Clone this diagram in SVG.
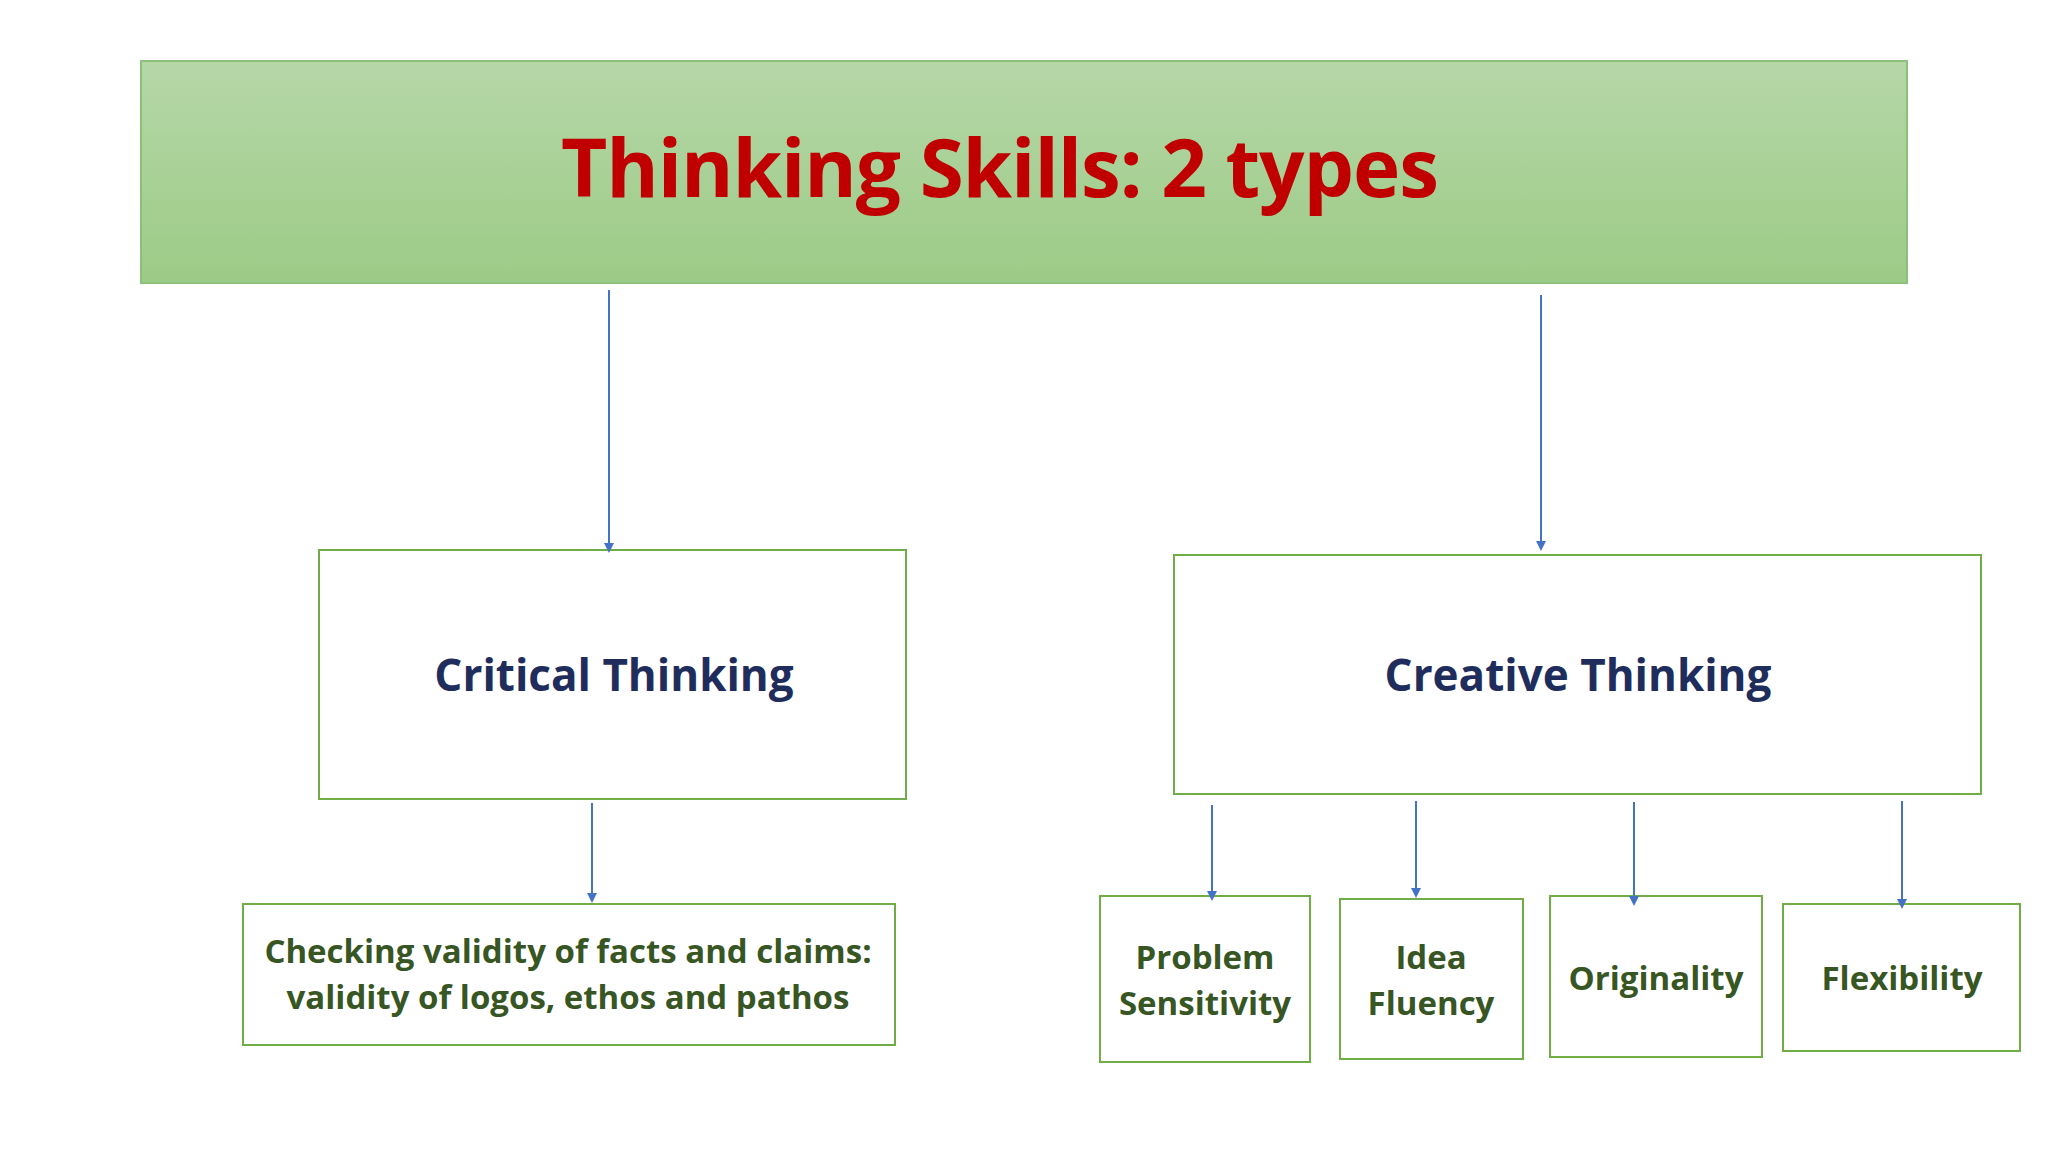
<svg xmlns="http://www.w3.org/2000/svg" width="2048" height="1152" viewBox="0 0 2048 1152">
<defs>
<linearGradient id="g" x1="0" y1="0" x2="0" y2="1"><stop offset="0" stop-color="#b6d7a8"/><stop offset="1" stop-color="#9ccb86"/></linearGradient>
<marker id="a" markerWidth="10" markerHeight="10" refX="5" refY="5" orient="auto" markerUnits="userSpaceOnUse"><path d="M0,0 L10,5 L0,10 z" fill="#4472c4"/></marker>
<style>
.b{fill:#fff;stroke:#70ad47;stroke-width:2}
.t{font-family:"Open Sans","Liberation Sans",sans-serif;font-weight:bold;text-anchor:middle}
.h{fill:#1f2d5c;font-size:44px}
.s{fill:#375623;font-size:33px}
.c line{stroke:#4472c4;stroke-width:2;marker-end:url(#a)}
</style>
</defs>
<rect width="2048" height="1152" fill="#fff"/>
<g id="title"><rect x="141" y="61" width="1766" height="222" fill="url(#g)" stroke="#8cc07a" stroke-width="2"/>
<text class="t" x="1000" y="197" font-size="80" fill="#c00000" textLength="878">Thinking Skills: 2 types</text></g>
<g id="critical"><rect class="b" x="319" y="550" width="587" height="249"/><text class="t h" x="614" y="691">Critical Thinking</text></g>
<g id="creative"><rect class="b" x="1174" y="555" width="807" height="239"/><text class="t h" x="1578" y="691">Creative Thinking</text></g>
<g id="checking"><rect class="b" x="243" y="904" width="652" height="141"/><text class="t s" x="568" y="963">Checking validity of facts and claims:</text><text class="t s" x="568" y="1009">validity of logos, ethos and pathos</text></g>
<g id="problem"><rect class="b" x="1100" y="896" width="210" height="166"/><text class="t s" x="1205" y="969">Problem</text><text class="t s" x="1205" y="1015">Sensitivity</text></g>
<g id="idea"><rect class="b" x="1340" y="899" width="183" height="160"/><text class="t s" x="1431" y="969">Idea</text><text class="t s" x="1431" y="1015">Fluency</text></g>
<g id="originality"><rect class="b" x="1550" y="896" width="212" height="161"/><text class="t s" x="1656" y="990">Originality</text></g>
<g id="flexibility"><rect class="b" x="1783" y="904" width="237" height="147"/><text class="t s" x="1902" y="990">Flexibility</text></g>
<g class="c" id="connectors">
<line x1="609" y1="290" x2="609" y2="548"/>
<line x1="1541" y1="295" x2="1541" y2="546"/>
<line x1="592" y1="803" x2="592" y2="898"/>
<line x1="1212" y1="805" x2="1212" y2="896"/>
<line x1="1416" y1="801" x2="1416" y2="893"/>
<line x1="1634" y1="802" x2="1634" y2="901"/>
<line x1="1902" y1="801" x2="1902" y2="904"/>
</g>
</svg>
